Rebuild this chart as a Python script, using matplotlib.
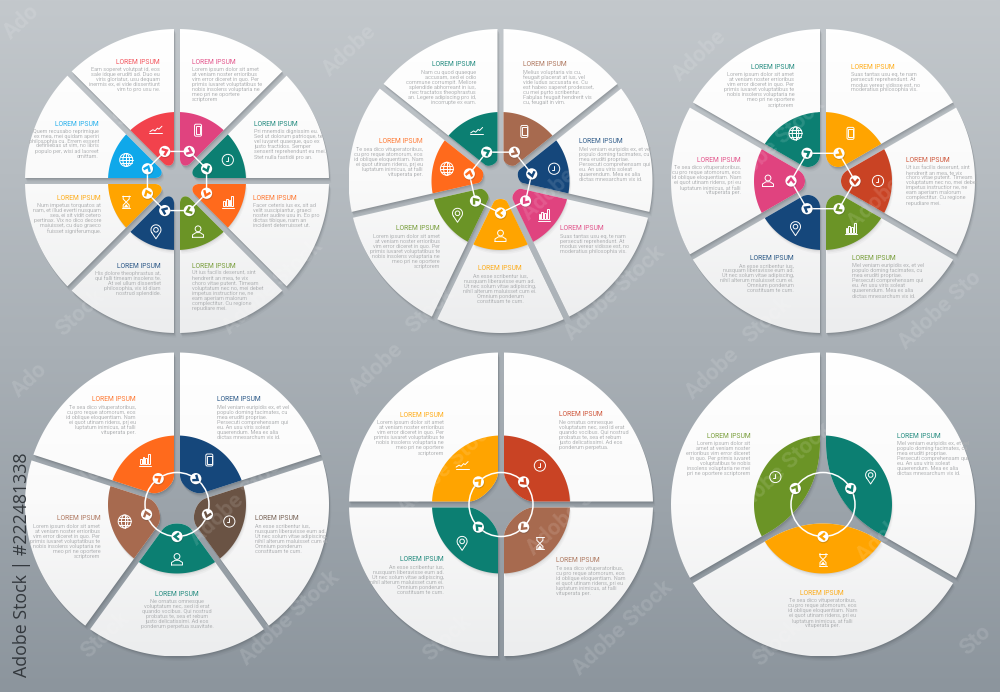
import numpy as np
import matplotlib
matplotlib.use('Agg')
import matplotlib.pyplot as plt
from matplotlib.colors import LinearSegmentedColormap
from matplotlib.patches import Polygon, Circle, Ellipse, Rectangle, FancyBboxPatch

plt.rcParams['font.family'] = ['Roboto', 'DejaVu Sans']

PINK = '#E0437F'
TEAL = '#0C7F72'
ORANGE = '#FF6A1C'
GREEN = '#6B9426'
NAVY = '#15477B'
AMBER = '#FFA400'
BLUE = '#0FA8EA'
RED = '#F2424C'
BROWN = '#A76A4F'
BRICK = '#C94324'
DARK = '#6A5344'

TITLE = 'LOREM IPSUM'
LOREM = ['Lorem ipsum dolor sit amet', 'at veniam noster errioribus',
         'vim error diceret in quo. Per', 'primis iuvaret voluptatibus te',
         'nobis insolens voluptaria ne', 'meo pri ne oportere', 'scriptorem']
MNEM = ['Pri mnemdis dignissim eu.', 'Sed ut dolorum patrioque, te',
        'vel iuvaret quaeque, quo ex', 'justo fractidos. Semper',
        'senserit reprehendunt eu mei.', 'Stet nulla fastidii pro an.']
FACER = ['Facer ceteris ius ex, sit ad', 'velit suscipiantur, graeci',
         'noster audire usu in. Eo pro', 'dictas tibique, nam an',
         'incident deterruisset ut.']
UTIUS = ['Ut ius facilis deserunt, sint', 'hendrerit an mea, te vix',
         'choro vitae putent. Timeam', 'voluptatum nec no, mei debet',
         'impetus instructior ne, ne', 'eam aperiam malorum',
         'complectitur. Cu regione', 'repudiare mei.']
HIS = ['His dolore theophrastus at,', 'qui falli timeam insolens te.',
       'At vel ullum dissentiet', 'philosophia, vix id diam',
       'nostrud splendide.']
NUM = ['Num impetus torquatos at', 'nam, et illud everti nusquam',
       'sea, ei sit vidit cetero', 'pertinax. Vix no dico decore',
       'maiuisset, cu duo graeco', 'fuisset signiferumque.']
QUEM = ['Quem recusabo reprimique', 'ex mea, mei quidam aperiri',
        'philosophia cu. Errem essent', 'definiebas ut vim, no libris',
        'populo per, wisi ad laoreet', 'omittam.']
EAM = ['Eam soperet volutpat id, eos', 'sale idque eruditi ad. Duo eu',
       'viris gloriatur, usu dequam', 'inermis ex, ei vide dissentiunt',
       'vim to pro usu ne.']
MELIUS = ['Melius voluptaria vis cu,', 'feugait placerat at ius, vel',
          'vide ludus accusata ex. Cu', 'est habeo saperet prodesset,',
          'cu mei purto scribentur.', 'Fabulas feugait hendrerit vis',
          'cu, feugait in vim.']
MEL = ['Mel veniam euripidis ex, et vel', 'populo doming tacimates, cu',
       'mea eruditi propriae.', 'Persecuti comprehensam qui',
       'eu. An usu viris soleat', 'quaerendum. Mea ex alia',
       'dictas mnesarchum vix id.']
SUAS = ['Suas tantas usu eq, te nam', 'persecuti reprehendunt. At',
        'modus verear vidisse est, no', 'moderatius philosophia vis.']
ANESSE = ['An esse scribentur ius,', 'nusquam liberavisse eum ad.',
          'Ut nec solum vitae adipiscing,', 'nihil alterum maluisset cum ei.',
          'Omnium ponderum', 'constituam te cum.']
TESEA = ['Te sea dico vituperatoribus,', 'cu pro reque atomorum, eos',
         'id oblique eloquentiam. Nam', 'ei quot utinam ridens, pri eu',
         'luptatum inimicus, at falli', 'vituperata per.']
NAM = ['Nam cu quod quaeque', 'accusam, sed ei odio',
       'commune corrumpit. Meliore', 'splendide abhorreant in ius,',
       'nec tractatos theophrastus', 'an. Legere adipiscing pro id,',
       'incorrupte ex eam.']
ORNATUS = ['Ne ornatus omnesque', 'voluptatum nec, sed id erat',
           'quando vocibus. Qui nostrud', 'probatus te, sea et rebum',
           'justo delicatissimi. Ad eos', 'ponderum perpetua suavitate.']
ORNATUS2 = ORNATUS[:5] + ['ponderum perpetua.']
LOREM2 = ['Lorem ipsum dolor sit', 'amet at veniam noster',
          'errioribus vim error diceret', 'in quo. Per primis iuvaret',
          'voluptatibus te nobis', 'insolens voluptaria ne mei',
          'pri ne oportere scriptorem']

# wheel centres, sectors run clockwise from the gap at 12 o'clock
CENTERS = [(177, 181), (500.5, 181), (823, 181),
           (177, 504.5), (501, 504.5), (823, 504.5)]
COLORS = [[PINK, TEAL, ORANGE, GREEN, NAVY, AMBER, BLUE, RED],
          [BROWN, NAVY, PINK, AMBER, GREEN, ORANGE, TEAL],
          [AMBER, BRICK, GREEN, NAVY, PINK, TEAL],
          [NAVY, DARK, TEAL, BROWN, ORANGE],
          [BRICK, BROWN, TEAL, AMBER],
          [TEAL, AMBER, GREEN]]
ICONS = [['phone', 'clock', 'bars', 'person', 'pin', 'glass', 'globe', 'trend'],
         ['phone', 'clock', 'bars', 'person', 'pin', 'globe', 'trend'],
         ['phone', 'clock', 'bars', 'pin', 'person', 'globe'],
         ['phone', 'clock', 'person', 'globe', 'bars'],
         ['clock', 'glass', 'pin', 'trend'],
         ['pin', 'glass', 'clock']]
BODIES = [[LOREM, MNEM, FACER, UTIUS, HIS, NUM, QUEM, EAM],
          [MELIUS, MEL, SUAS, ANESSE, LOREM, TESEA, NAM],
          [SUAS, UTIUS, MEL, ANESSE, TESEA, LOREM],
          [MEL, ANESSE, ORNATUS, LOREM, TESEA],
          [ORNATUS2, TESEA, ANESSE, LOREM],
          [MEL, TESEA, LOREM2]]
TEXT_POS = [[(192, 62, 'left'), (254, 124, 'left'), (253, 198, 'left'),
             (192, 266, 'left'), (161, 266, 'right'), (101, 198, 'right'),
             (99, 124, 'right'), (160, 62, 'right')],
            [(523, 64.7, 'left'), (578.7, 141.7, 'left'), (559.7, 229, 'left'),
             (500, 268.7, 'center'), (440, 229, 'right'), (423, 141.7, 'right'),
             (476, 64.7, 'right')],
            [(851.3, 67.3, 'left'), (905.7, 160.3, 'left'), (852, 258.3, 'left'),
             (793.7, 258.3, 'right'), (741, 160.3, 'right'), (794.3, 67.3, 'right')],
            [(216.7, 399.7, 'left'), (254.7, 518.7, 'left'), (177, 594.3, 'center'),
             (100.3, 518.7, 'right'), (135.7, 399.7, 'right')],
            [(559, 415, 'left'), (556, 561, 'left'), (444, 559.7, 'right'),
             (444, 415.3, 'right')],
            [(896.7, 436, 'left'), (822.3, 593.3, 'center'), (750.3, 436, 'right')]]
# how far the rounded tip starts along the edge, and its distance from the centre
TIP_LEN = [15, 16, 21, 25, 29, 60]
TIP_RAD = [17, 18, 18, 19, 18.5, 19]

WATERMARKS = [(22, 22, 'Ado'), (113, 127, 'Adobe Stock'), (80, 313, 'Stock'),
              (273, 287, 'Adobe Stock'), (350, 50, 'Adobe'), (438, 130, 'Adobe Stock'),
              (572, 173, 'Adobe Stock'), (430, 310, 'Stock'), (615, 293, 'Adobe Stock'),
              (700, 55, 'Adobe'), (775, 145, 'Adobe Stock'), (898, 182, 'Adobe Stock'),
              (767, 320, 'Stock'), (940, 310, 'Adobe Sto'), (30, 380, 'Ado'),
              (117, 452, 'Adobe Stock'), (240, 498, 'Adobe Stock'), (105, 635, 'Stock'),
              (290, 618, 'Adobe Stock'), (377, 368, 'Adobe'), (448, 467, 'Adobe Stock'),
              (577, 508, 'Adobe Stock'), (447, 638, 'Stock'), (623, 628, 'Adobe Stock'),
              (713, 373, 'Adobe'), (782, 470, 'Adobe Stock'), (907, 515, 'Adobe Stock'),
              (777, 643, 'Stock'), (975, 640, 'Sto')]
STOCK_ID = 'Adobe Stock | #222481338'

R_OUT = 152
R_COL = 69
R_RING = 32
GAP = 6


def u(th):
    return np.array([np.sin(th), -np.cos(th)])


def v(th):
    return np.array([np.cos(th), np.sin(th)])


def sector_points(c, th1, th2, radius, tip_len, tip_rad):
    half = (th2 - th1) / 2
    mid = th1 + half
    g = GAP / 2
    start = g / np.tan(half) + tip_len
    a = g * v(th1) + start * u(th1)
    b = -g * v(th2) + start * u(th2)
    # handles run along the edges so the nose stays smooth, length set from tip_rad
    h = (a @ u(mid) - tip_rad) / (0.75 * np.cos(half))
    c1 = b - h * u(th2)
    c2 = a - h * u(th1)
    t = np.linspace(0, 1, 30)[:, None]
    curve = ((1 - t) ** 3 * b + 3 * t * (1 - t) ** 2 * c1
             + 3 * t ** 2 * (1 - t) * c2 + t ** 3 * a)
    off = np.arcsin(g / radius)
    ang = np.linspace(th1 + off, th2 - off, 70)
    arc = np.c_[radius * np.sin(ang), -radius * np.cos(ang)]
    return np.vstack([curve, arc]) + np.array(c)


def draw_icon(ax, name, x, y):
    kw = dict(color='white', lw=0.7, solid_capstyle='round', zorder=6)
    pk = dict(fill=False, ec='white', lw=0.7, zorder=6)
    if name == 'phone':
        ax.add_patch(FancyBboxPatch((x - 3.5, y - 6), 7, 12, boxstyle='round,pad=0,rounding_size=1.5', **pk))
        ax.add_patch(Rectangle((x - 2.2, y - 4), 4.4, 8, **pk))
    elif name == 'clock':
        ax.add_patch(Circle((x, y), 5.6, **pk))
        ax.plot([x, x, x - 2.2], [y - 3, y + 1, y + 1], **kw)
    elif name == 'bars':
        for dx, h in zip([-4, -1.2, 1.6, 4.2], [5, 7, 6, 10]):
            ax.add_patch(Rectangle((x + dx - 0.9, y + 4 - h), 1.8, h, **pk))
        ax.plot([x - 6, x + 6], [y + 5.5, y + 5.5], **kw)
    elif name == 'trend':
        ax.plot([x - 6, x - 3, x - 1, x + 1.5, x + 3, x + 6],
                [y + 1.5, y - 0.5, y + 0.7, y - 2, y - 1, y - 4], **kw)
        ax.plot([x - 6.5, x + 6.5], [y + 3, y + 3], **kw)
    elif name == 'globe':
        ax.add_patch(Circle((x, y), 6.5, **pk))
        ax.add_patch(Ellipse((x, y), 6.5, 13, **pk))
        ax.plot([x, x], [y - 6.5, y + 6.5], **kw)
        for dy, w in [(-3.2, 5.6), (0, 6.5), (3.2, 5.6)]:
            ax.plot([x - w, x + w], [y + dy, y + dy], **kw)
    elif name == 'glass':
        ax.plot([x - 4, x + 4], [y - 6, y - 6], **kw)
        ax.plot([x - 4, x + 4], [y + 6, y + 6], **kw)
        ax.plot([x - 3, x - 3, x + 3, x + 3], [y - 6, y - 3, y + 3, y + 6], **kw)
        ax.plot([x + 3, x + 3, x - 3, x - 3], [y - 6, y - 3, y + 3, y + 6], **kw)
        ax.add_patch(Polygon([(x - 2.6, y + 5.5), (x, y + 2), (x + 2.6, y + 5.5)],
                             fc='white', ec='none', zorder=6))
    elif name == 'pin':
        t = np.linspace(-np.pi * 1.2, np.pi * 0.2, 40)
        px = np.r_[x + 5 * np.cos(t), x, x + 5 * np.cos(t[0])]
        py = np.r_[y - 2 + 5 * np.sin(t), y + 7, y - 2 + 5 * np.sin(t[0])]
        ax.plot(px, py, **kw)
        ax.add_patch(Circle((x, y - 2), 2.3, **pk))
    elif name == 'person':
        ax.add_patch(Circle((x, y - 3), 2.9, **pk))
        ax.plot([x - 5.5, x - 5.5, x - 2, x + 2, x + 5.5, x + 5.5, x - 5.5],
                [y + 5.5, y + 3, y + 0.8, y + 0.8, y + 3, y + 5.5, y + 5.5], **kw)


fig = plt.figure(figsize=(10, 6.92), dpi=100)
ax = fig.add_axes([0, 0, 1, 1])
ax.axis('off')

bg = LinearSegmentedColormap.from_list('bg', ['#C3C8CC', '#A9B0B6', '#8C959D'])
ax.imshow(np.linspace(0, 1, 256)[:, None], cmap=bg, extent=(0, 1000, 692, 0),
          aspect='auto', interpolation='bilinear', zorder=0)
paper = LinearSegmentedColormap.from_list('paper', ['#FFFFFF', '#FAFAFA', '#ECEDEE'])

for i, c in enumerate(CENTERS):
    n = len(COLORS[i])
    step = 2 * np.pi / n
    sectors = []
    for k in range(n):
        th1, th2 = k * step, (k + 1) * step
        pts = sector_points(c, th1, th2, R_OUT, TIP_LEN[i], TIP_RAD[i])
        sectors.append(pts)
        for dd, al in [(1, 0.12), (2, 0.09), (3, 0.07), (4.5, 0.05)]:
            ax.add_patch(Polygon(pts + [dd * 0.5, dd], fc='#3A4147', ec='none',
                                 alpha=al, zorder=1))
    for k in range(n):
        sh = Polygon(sectors[k], fc='none', ec='none', zorder=2)
        ax.add_patch(sh)
        im = ax.imshow(np.linspace(0, 1, 64)[:, None], cmap=paper, aspect='auto',
                       extent=(c[0] - R_OUT, c[0] + R_OUT, c[1] + R_OUT, c[1] - R_OUT),
                       interpolation='bilinear', zorder=2)
        im.set_clip_path(sh)
    for k in range(n):
        th1, th2 = k * step, (k + 1) * step
        pts = sector_points(c, th1, th2, R_COL, TIP_LEN[i], TIP_RAD[i])
        clip = Polygon(sectors[k], fc='none', ec='none', zorder=3)
        ax.add_patch(clip)
        for dd, al in [(1, 0.08), (2.5, 0.05), (4, 0.03)]:
            s = ax.add_patch(Polygon(pts + [dd * 0.4, dd], fc='#333333', ec='none',
                                     alpha=al, zorder=3))
            s.set_clip_path(clip)
        ax.add_patch(Polygon(pts, fc=COLORS[i][k], ec='none', zorder=4))

    mids = (np.arange(n) + 0.5) * step
    if n >= 6:
        ring = np.array([np.array(c) + R_RING * u(m) for m in np.r_[mids, mids[0]]])
        ax.plot(ring[:, 0], ring[:, 1], color='white', lw=1.0, zorder=5)
    else:
        ax.add_patch(Circle(c, R_RING, fill=False, ec='white', lw=1.1, zorder=5))

    for k, m in enumerate(mids):
        col = COLORS[i][k]
        node = np.array(c) + R_RING * u(m)
        ax.add_patch(Circle(node + [0.4, 0.8], 5.9, fc='#333333', ec='none', alpha=0.2, zorder=5))
        ax.add_patch(Circle(node, 5.6, fc='white', ec='none', zorder=6))
        tip = node + 2.3 * v(m)
        p1 = node - 1.0 * v(m) + 2.6 * u(m)
        p2 = node - 1.0 * v(m) - 2.6 * u(m)
        ax.plot([p1[0], tip[0], p2[0]], [p1[1], tip[1], p2[1]], color=col, lw=1.7,
                solid_joinstyle='miter', zorder=7)
        ic = np.array(c) + 55 * u(m)
        draw_icon(ax, ICONS[i][k], ic[0], ic[1])

    for k, (x, y, ha) in enumerate(TEXT_POS[i]):
        ax.text(x, y, TITLE, color=COLORS[i][k], fontsize=4.9, ha=ha, va='center',
                alpha=0.9, zorder=6)
        for j, line in enumerate(BODIES[i][k]):
            ax.text(x, y + 7.4 + j * 5.05, line, color='#B0B2B4', fontsize=4.0, ha=ha,
                    va='center', zorder=6)

for x, y, label in WATERMARKS:
    ax.text(x, y, label, color='white', alpha=0.12, fontsize=16, fontweight='bold',
            rotation=43, ha='center', va='center', rotation_mode='anchor', zorder=8)

ax.text(22.5, 677, STOCK_ID, color='#33383D', fontsize=12.8, rotation=90, ha='center', va='bottom',
        family='Open Sans', zorder=9)

ax.set_xlim(0, 1000)
ax.set_ylim(692, 0)
fig.savefig('out.png', dpi=100)
